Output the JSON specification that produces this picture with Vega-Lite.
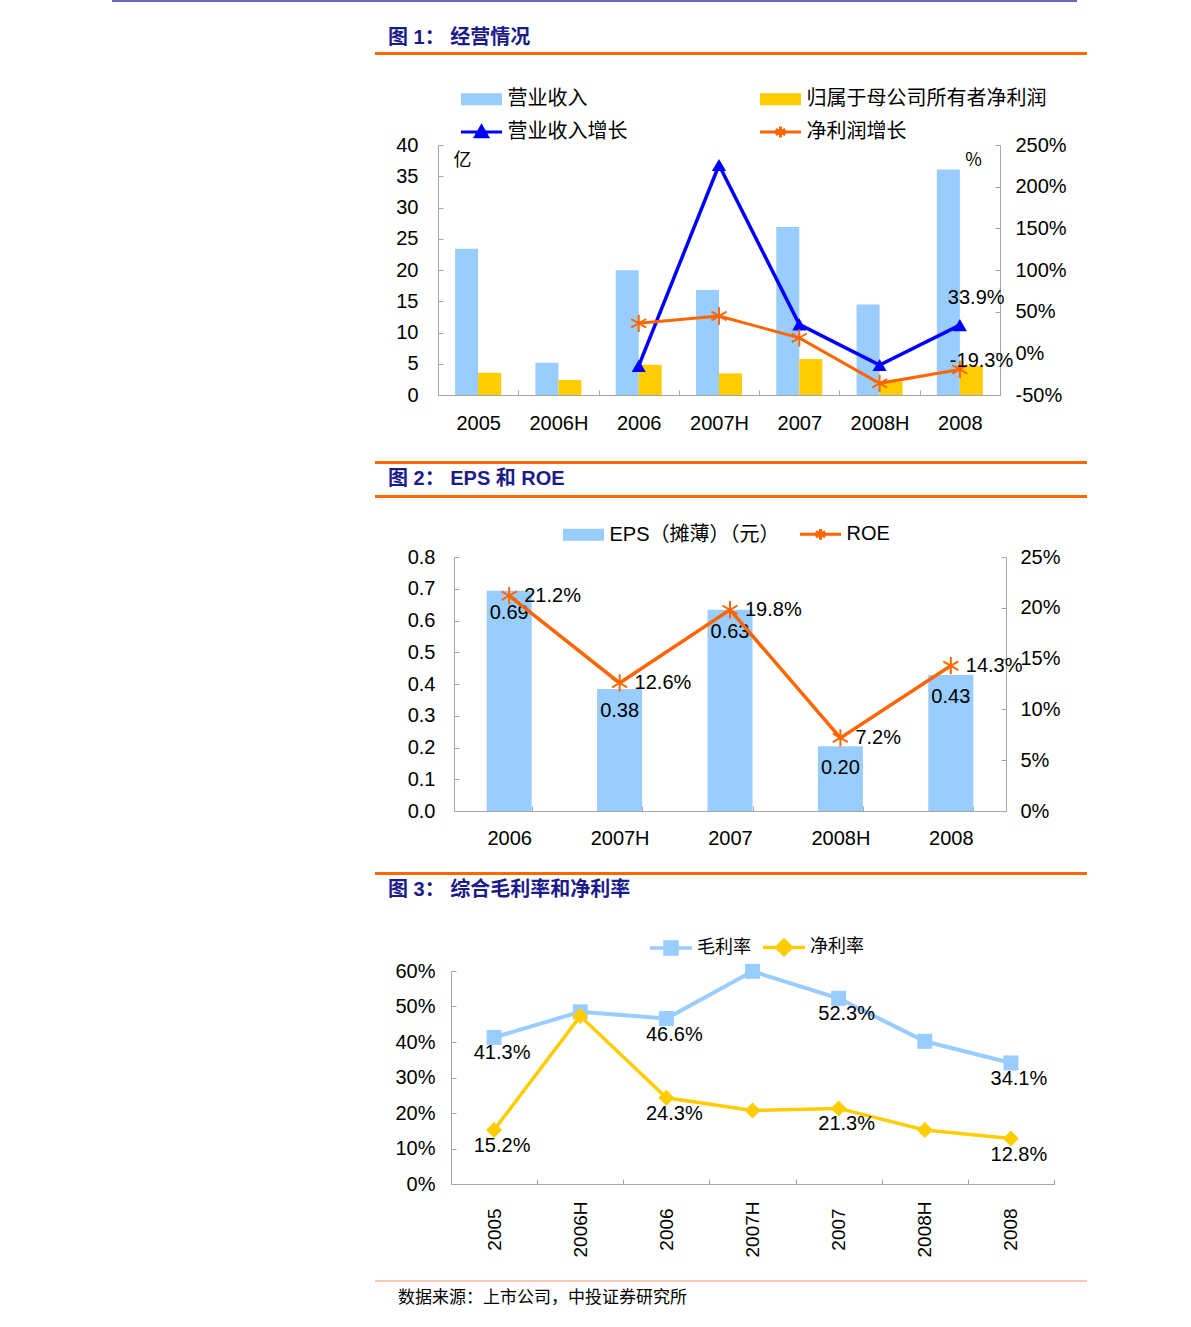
{
  "$schema": "https://vega.github.io/schema/vega-lite/v6.json",
  "background": "white",
  "padding": {"left": 112, "top": 0, "right": 10, "bottom": 10},
  "autosize": {"type": "pad"},
  "spacing": 5,
  "resolve": {"scale": {"color": "independent", "x": "independent", "y": "independent"}, "legend": {"color": "independent"}},
  "config": {
    "view": {"stroke": null},
    "font": "Liberation Sans, Noto Sans CJK SC",
    "axis": {"grid": false, "domainColor": "#A6A6A6", "tickColor": "#A6A6A6", "tickSize": -5, "labelFontSize": 20, "labelColor": "#000000", "labelFont": "Liberation Sans", "titleFont": "Noto Sans CJK SC", "titleColor": "#000000", "titleFontWeight": "normal", "titleFontSize": 18},
    "legend": {"labelFont": "Liberation Sans, Noto Sans CJK SC", "labelColor": "#000000", "labelFontSize": 20},
    "title": {"anchor": "start", "frame": "group", "baseline": "bottom", "font": "Liberation Sans, Noto Sans CJK SC", "fontSize": 20, "fontWeight": "bold", "color": "#1B1B8A"},
    "text": {"font": "Liberation Sans", "fontSize": 20, "color": "#000000"}
  },
  "datasets": {
    "p1": [
      {"cat": "2005", "series": "营业收入", "kind": "bar", "v": 23.4},
      {"cat": "2006H", "series": "营业收入", "kind": "bar", "v": 5.16},
      {"cat": "2006", "series": "营业收入", "kind": "bar", "v": 19.95},
      {"cat": "2007H", "series": "营业收入", "kind": "bar", "v": 16.8},
      {"cat": "2007", "series": "营业收入", "kind": "bar", "v": 26.9},
      {"cat": "2008H", "series": "营业收入", "kind": "bar", "v": 14.47},
      {"cat": "2008", "series": "营业收入", "kind": "bar", "v": 36.1},
      {"cat": "2005", "series": "归属于母公司所有者净利润", "kind": "bar", "v": 3.56},
      {"cat": "2006H", "series": "归属于母公司所有者净利润", "kind": "bar", "v": 2.39},
      {"cat": "2006", "series": "归属于母公司所有者净利润", "kind": "bar", "v": 4.84},
      {"cat": "2007H", "series": "归属于母公司所有者净利润", "kind": "bar", "v": 3.46},
      {"cat": "2007", "series": "归属于母公司所有者净利润", "kind": "bar", "v": 5.74},
      {"cat": "2008H", "series": "归属于母公司所有者净利润", "kind": "bar", "v": 2.15},
      {"cat": "2008", "series": "归属于母公司所有者净利润", "kind": "bar", "v": 4.63},
      {"cat": "2006", "series": "营业收入增长", "kind": "line", "v": -15},
      {"cat": "2007H", "series": "营业收入增长", "kind": "line", "v": 226},
      {"cat": "2007", "series": "营业收入增长", "kind": "line", "v": 34.8},
      {"cat": "2008H", "series": "营业收入增长", "kind": "line", "v": -14},
      {"cat": "2008", "series": "营业收入增长", "kind": "line", "v": 33.9, "lbl": "33.9%"},
      {"cat": "2006", "series": "净利润增长", "kind": "line", "v": 36},
      {"cat": "2007H", "series": "净利润增长", "kind": "line", "v": 44.8},
      {"cat": "2007", "series": "净利润增长", "kind": "line", "v": 18.6},
      {"cat": "2008H", "series": "净利润增长", "kind": "line", "v": -36},
      {"cat": "2008", "series": "净利润增长", "kind": "line", "v": -19.3, "lbl": "-19.3%"}
    ],
    "p2": [
      {"cat": "2006", "series": "EPS（摊薄）（元）", "kind": "bar", "v": 0.694},
      {"cat": "2007H", "series": "EPS（摊薄）（元）", "kind": "bar", "v": 0.384},
      {"cat": "2007", "series": "EPS（摊薄）（元）", "kind": "bar", "v": 0.634},
      {"cat": "2008H", "series": "EPS（摊薄）（元）", "kind": "bar", "v": 0.204},
      {"cat": "2008", "series": "EPS（摊薄）（元）", "kind": "bar", "v": 0.428},
      {"cat": "2006", "series": "ROE", "kind": "line", "v": 21.2, "lbl": "21.2%"},
      {"cat": "2007H", "series": "ROE", "kind": "line", "v": 12.6, "lbl": "12.6%"},
      {"cat": "2007", "series": "ROE", "kind": "line", "v": 19.8, "lbl": "19.8%"},
      {"cat": "2008H", "series": "ROE", "kind": "line", "v": 7.2, "lbl": "7.2%"},
      {"cat": "2008", "series": "ROE", "kind": "line", "v": 14.3, "lbl": "14.3%"}
    ],
    "p3": [
      {"cat": "2005", "series": "毛利率", "v": 41.3, "lbl": "41.3%"},
      {"cat": "2006H", "series": "毛利率", "v": 48.5},
      {"cat": "2006", "series": "毛利率", "v": 46.6, "lbl": "46.6%"},
      {"cat": "2007H", "series": "毛利率", "v": 59.9},
      {"cat": "2007", "series": "毛利率", "v": 52.3, "lbl": "52.3%"},
      {"cat": "2008H", "series": "毛利率", "v": 40.2},
      {"cat": "2008", "series": "毛利率", "v": 34.1, "lbl": "34.1%"},
      {"cat": "2005", "series": "净利率", "v": 15.2, "lbl": "15.2%"},
      {"cat": "2006H", "series": "净利率", "v": 47.3},
      {"cat": "2006", "series": "净利率", "v": 24.3, "lbl": "24.3%"},
      {"cat": "2007H", "series": "净利率", "v": 20.7},
      {"cat": "2007", "series": "净利率", "v": 21.3, "lbl": "21.3%"},
      {"cat": "2008H", "series": "净利率", "v": 15.2},
      {"cat": "2008", "series": "净利率", "v": 12.8, "lbl": "12.8%"}
    ]
  },
  "vconcat": [
    {
      "spacing": 0,
      "hconcat": [
        {"width": 965, "height": 2, "view": {"fill": "#6A6AB8", "stroke": null}, "data": {"values": [{}]}, "mark": {"type": "text", "fontSize": 0}, "encoding": {"text": {"value": ""}}},
        {"width": 1, "height": 23, "data": {"values": [{}]}, "mark": {"type": "text", "fontSize": 0}, "encoding": {"text": {"value": ""}}}
      ]
    },
    {
      "spacing": 0,
      "hconcat": [
        {"width": 263, "height": 1, "data": {"values": [{}]}, "mark": {"type": "text", "fontSize": 0}, "encoding": {"text": {"value": ""}}},
        {
          "width": 712, "height": 3,
          "view": {"fill": "#FF6600", "stroke": null},
          "data": {"values": [{}]},
          "mark": {"type": "text", "fontSize": 0},
          "encoding": {"text": {"value": ""}},
          "title": {"text": "图 1：\u00a0经营情况", "dx": 13, "offset": 4}
        }
      ]
    },
    {
      "spacing": 0,
      "resolve": {"scale": {"color": "independent"}, "legend": {"color": "independent"}},
      "hconcat": [
        {"width": 281, "height": 1, "data": {"values": [{}]}, "mark": {"type": "text", "fontSize": 0}, "encoding": {"text": {"value": ""}}},
        {
          "width": 562, "height": 250,
          "data": {"name": "p1"},
          "encoding": {
            "x": {"field": "cat", "type": "nominal",
                  "scale": {"domain": ["2005", "2006H", "2006", "2007H", "2007", "2008H", "2008"], "paddingInner": 0, "paddingOuter": 0},
                  "axis": {"title": null, "labelAngle": 0, "tickBand": "extent", "labelPadding": 23, "minExtent": 61}},
            "color": {"field": "series", "type": "nominal",
                      "scale": {"domain": ["营业收入", "归属于母公司所有者净利润", "营业收入增长", "净利润增长"], "range": ["#99CCFF", "#FFCC00", "#0000FF", "#FF6600"]},
                      "legend": {"orient": "none", "direction": "horizontal", "legendX": -6, "legendY": -85, "padding": 29, "columns": 2, "columnPadding": 125, "rowPadding": 10,
                                 "symbolSize": 144, "symbolStrokeWidth": 3, "symbolOffset": 10.5, "labelOffset": 16, "title": null, "labelLimit": 400, "labelFontSize": 20,
                                 "encode": {"symbols": {"update": {
                                   "size": {"value": 144},
                                   "strokeWidth": {"value": 3},
                                   "shape": {"signal": "['M-3.17,-0.75H3.17V0.75H-3.17Z','M-3.17,-0.75H3.17V0.75H-3.17Z','M-3.42,0H3.42M-1,0.8L0,-0.95L1,0.8Z','M-3.42,0H3.42M0,-0.9V0.9M-0.78,-0.45L0.78,0.45M-0.78,0.45L0.78,-0.45'][datum.index]"},
                                   "fill": {"signal": "['#99CCFF','#FFCC00','#0000FF','transparent'][datum.index]"},
                                   "stroke": {"signal": "['#99CCFF','#FFCC00','#0000FF','#FF6600'][datum.index]"},
                                   "opacity": {"value": 1}
                                 }}}}}
          },
          "layer": [
            {
              "transform": [{"filter": "datum.kind === 'bar'"}],
              "mark": {"type": "bar"},
              "encoding": {
                "xOffset": {"field": "series", "type": "nominal", "scale": {"domain": ["营业收入", "归属于母公司所有者净利润"], "paddingInner": 0, "paddingOuter": 0.745}},
                "y": {"field": "v", "type": "quantitative", "scale": {"domain": [0, 40]},
                      "axis": {"title": "亿", "titleAngle": 0, "titleX": 24, "titleY": 15, "titleAlign": "center", "titleBaseline": "middle",
                               "values": [0, 5, 10, 15, 20, 25, 30, 35, 40], "labelPadding": 25, "minExtent": 45}}
              }
            },
            {
              "encoding": {
                "y": {"field": "v", "type": "quantitative", "scale": {"domain": [-50, 250]},
                      "axis": {"orient": "right", "title": "%", "titleAngle": 0, "titleX": -27, "titleY": 15, "titleAlign": "center", "titleBaseline": "middle",
                               "values": [-50, 0, 50, 100, 150, 200, 250], "labelExpr": "datum.value + '%'", "labelPadding": 20}}
              },
              "layer": [
                {"transform": [{"filter": "datum.series === '营业收入增长'"}],
                 "mark": {"type": "line", "strokeWidth": 3.5, "point": {"shape": "triangle-up", "size": 200, "filled": true}}},
                {"transform": [{"filter": "datum.series === '净利润增长'"}],
                 "mark": {"type": "line", "strokeWidth": 3, "point": {"shape": "M0,-1V1M-0.87,-0.5L0.87,0.5M-0.87,0.5L0.87,-0.5", "size": 300, "filled": false, "strokeWidth": 2}}},
                {"transform": [{"filter": "datum.series === '营业收入增长' && datum.lbl"}],
                 "mark": {"type": "text", "align": "left", "baseline": "middle", "dx": -12, "dy": -27, "fontSize": 20},
                 "encoding": {"text": {"field": "lbl"}, "color": {"value": "#000000"}}},
                {"transform": [{"filter": "datum.series === '净利润增长' && datum.lbl"}],
                 "mark": {"type": "text", "align": "left", "baseline": "middle", "dx": -10, "dy": -8, "fontSize": 20},
                 "encoding": {"text": {"field": "lbl"}, "color": {"value": "#000000"}}}
              ]
            }
          ],
          "resolve": {"scale": {"y": "independent"}}
        }
      ]
    },
    {
      "spacing": 0,
      "hconcat": [
        {"width": 263, "height": 1, "data": {"values": [{}]}, "mark": {"type": "text", "fontSize": 0}, "encoding": {"text": {"value": ""}}},
        {
          "width": 712, "height": 3,
          "view": {"fill": "#FF6600", "stroke": null},
          "data": {"values": [{}]},
          "mark": {"type": "text", "fontSize": 0},
          "encoding": {"text": {"value": ""}}
        }
      ]
    },
    {
      "spacing": 0,
      "hconcat": [
        {"width": 263, "height": 1, "data": {"values": [{}]}, "mark": {"type": "text", "fontSize": 0}, "encoding": {"text": {"value": ""}}},
        {
          "width": 712, "height": 3,
          "view": {"fill": "#FF6600", "stroke": null},
          "data": {"values": [{}]},
          "mark": {"type": "text", "fontSize": 0},
          "encoding": {"text": {"value": ""}},
          "title": {"text": "图 2：\u00a0EPS 和 ROE", "dx": 13, "offset": 6}
        }
      ]
    },
    {
      "spacing": 0,
      "resolve": {"scale": {"color": "independent"}, "legend": {"color": "independent"}},
      "hconcat": [
        {"width": 292, "height": 1, "data": {"values": [{}]}, "mark": {"type": "text", "fontSize": 0}, "encoding": {"text": {"value": ""}}},
        {
          "width": 552, "height": 254,
          "data": {"name": "p2"},
          "encoding": {
            "x": {"field": "cat", "type": "nominal",
                  "scale": {"domain": ["2006", "2007H", "2007", "2008H", "2008"], "paddingInner": 0.592, "paddingOuter": 0.296},
                  "axis": {"title": null, "labelAngle": 0, "tickBand": "extent", "labelPadding": 22, "minExtent": 56}},
            "color": {"field": "series", "type": "nominal",
                      "scale": {"domain": ["EPS（摊薄）（元）", "ROE"], "range": ["#99CCFF", "#FF6600"]},
                      "legend": {"orient": "none", "direction": "horizontal", "legendX": 88, "legendY": -54, "padding": 21, "columns": 2, "columnPadding": 13,
                                 "symbolSize": 144, "symbolStrokeWidth": 3, "symbolOffset": 10.5, "labelOffset": 16, "title": null, "labelLimit": 400, "labelFontSize": 20,
                                 "encode": {"symbols": {"update": {
                                   "size": {"value": 144},
                                   "strokeWidth": {"value": 3},
                                   "shape": {"signal": "['M-3.17,-0.75H3.17V0.75H-3.17Z','M-3.42,0H3.42M0,-0.9V0.9M-0.78,-0.45L0.78,0.45M-0.78,0.45L0.78,-0.45'][datum.index]"},
                                   "fill": {"signal": "['#99CCFF','transparent'][datum.index]"},
                                   "stroke": {"signal": "['#99CCFF','#FF6600'][datum.index]"},
                                   "opacity": {"value": 1}
                                 }}}}}
          },
          "layer": [
            {
              "transform": [{"filter": "datum.kind === 'bar'"}],
              "encoding": {
                "y": {"field": "v", "type": "quantitative", "scale": {"domain": [0, 0.8]},
                      "axis": {"title": null, "values": [0, 0.1, 0.2, 0.3, 0.4, 0.5, 0.6, 0.7, 0.8], "format": ".1f", "labelPadding": 24, "minExtent": 50}}
              },
              "layer": [
                {"mark": {"type": "bar"}},
                {"mark": {"type": "text", "baseline": "middle", "dy": 22, "fontSize": 20},
                 "encoding": {"text": {"field": "v", "format": ".2f"}, "color": {"value": "#000000"}}}
              ]
            },
            {
              "transform": [{"filter": "datum.kind === 'line'"}],
              "encoding": {
                "y": {"field": "v", "type": "quantitative", "scale": {"domain": [0, 25]},
                      "axis": {"orient": "right", "title": null, "values": [0, 5, 10, 15, 20, 25], "labelExpr": "datum.value + '%'", "labelPadding": 19}}
              },
              "layer": [
                {"mark": {"type": "line", "strokeWidth": 3.5, "point": {"shape": "M0,-1V1M-0.87,-0.5L0.87,0.5M-0.87,0.5L0.87,-0.5", "size": 300, "filled": false, "strokeWidth": 2}}},
                {"mark": {"type": "text", "align": "left", "baseline": "middle", "dx": 15, "fontSize": 20},
                 "encoding": {"text": {"field": "lbl"}, "color": {"value": "#000000"}}}
              ]
            }
          ],
          "resolve": {"scale": {"y": "independent"}}
        }
      ]
    },
    {
      "spacing": 0,
      "hconcat": [
        {"width": 263, "height": 1, "data": {"values": [{}]}, "mark": {"type": "text", "fontSize": 0}, "encoding": {"text": {"value": ""}}},
        {
          "width": 712, "height": 3,
          "view": {"fill": "#FF6600", "stroke": null},
          "data": {"values": [{}]},
          "mark": {"type": "text", "fontSize": 0},
          "encoding": {"text": {"value": ""}}
        }
      ]
    },
    {
      "spacing": 0,
      "resolve": {"scale": {"color": "independent"}, "legend": {"color": "independent"}},
      "hconcat": [
        {"width": 273, "height": 1, "data": {"values": [{}]}, "mark": {"type": "text", "fontSize": 0}, "encoding": {"text": {"value": ""}}},
        {
          "width": 603, "height": 213,
          "data": {"name": "p3"},
          "title": {"text": "图 3：\u00a0综合毛利率和净利率", "dx": -63, "offset": 32},
          "encoding": {
            "x": {"field": "cat", "type": "nominal",
                  "scale": {"domain": ["2005", "2006H", "2006", "2007H", "2007", "2008H", "2008"], "paddingInner": 0, "paddingOuter": 0},
                  "axis": {"title": null, "labelAngle": 270, "labelAlign": "center", "labelBaseline": "middle", "tickBand": "extent", "labelPadding": 50, "minExtent": 91, "labelFontSize": 19}},
            "y": {"field": "v", "type": "quantitative", "scale": {"domain": [0, 60]},
                  "axis": {"title": null, "values": [0, 10, 20, 30, 40, 50, 60], "labelExpr": "datum.value + '%'", "labelPadding": 21, "minExtent": 66}},
            "color": {"field": "series", "type": "nominal",
                      "scale": {"domain": ["毛利率", "净利率"], "range": ["#99CCFF", "#FFCC00"]},
                      "legend": {"orient": "none", "direction": "horizontal", "legendX": 193, "legendY": -39, "padding": 6, "columns": 2, "columnPadding": 5,
                                 "symbolSize": 144, "symbolStrokeWidth": 3.5, "symbolOffset": 12, "labelOffset": 17, "title": null, "labelLimit": 400, "labelFontSize": 18,
                                 "encode": {"symbols": {"update": {
                                   "size": {"value": 144},
                                   "strokeWidth": {"value": 3.5},
                                   "shape": {"signal": "['M-3.5,0H3.5M-1,-1H1V1H-1Z','M-3.5,0H3.5M0,-1.2L1.2,0L0,1.2L-1.2,0Z'][datum.index]"},
                                   "fill": {"signal": "['#99CCFF','#FFCC00'][datum.index]"},
                                   "stroke": {"signal": "['#99CCFF','#FFCC00'][datum.index]"},
                                   "opacity": {"value": 1}
                                 }}}}}
          },
          "layer": [
            {"transform": [{"filter": "datum.series === '毛利率'"}],
             "mark": {"type": "line", "strokeWidth": 4, "point": {"shape": "square", "size": 225, "filled": true}}},
            {"transform": [{"filter": "datum.series === '净利率'"}],
             "mark": {"type": "line", "strokeWidth": 3.5, "point": {"shape": "diamond", "size": 256, "filled": true}}},
            {"transform": [{"filter": "datum.lbl"}],
             "mark": {"type": "text", "baseline": "middle", "dx": 8, "dy": 16, "fontSize": 20},
             "encoding": {"text": {"field": "lbl"}, "color": {"value": "#000000"}}}
          ]
        }
      ]
    },
    {
      "spacing": 0,
      "hconcat": [
        {"width": 263, "height": 1, "data": {"values": [{}]}, "mark": {"type": "text", "fontSize": 0}, "encoding": {"text": {"value": ""}}},
        {
          "width": 712, "height": 2,
          "view": {"fill": "#FFC8B4", "stroke": null},
          "data": {"values": [{}]},
          "mark": {"type": "text", "fontSize": 0},
          "encoding": {"text": {"value": ""}},
          "title": {"text": "数据来源：上市公司，中投证券研究所", "orient": "bottom", "baseline": "top", "dx": 23, "offset": 8, "fontSize": 17, "fontWeight": "normal", "color": "#000000", "font": "Noto Sans CJK SC"}
        }
      ]
    }
  ]
}
